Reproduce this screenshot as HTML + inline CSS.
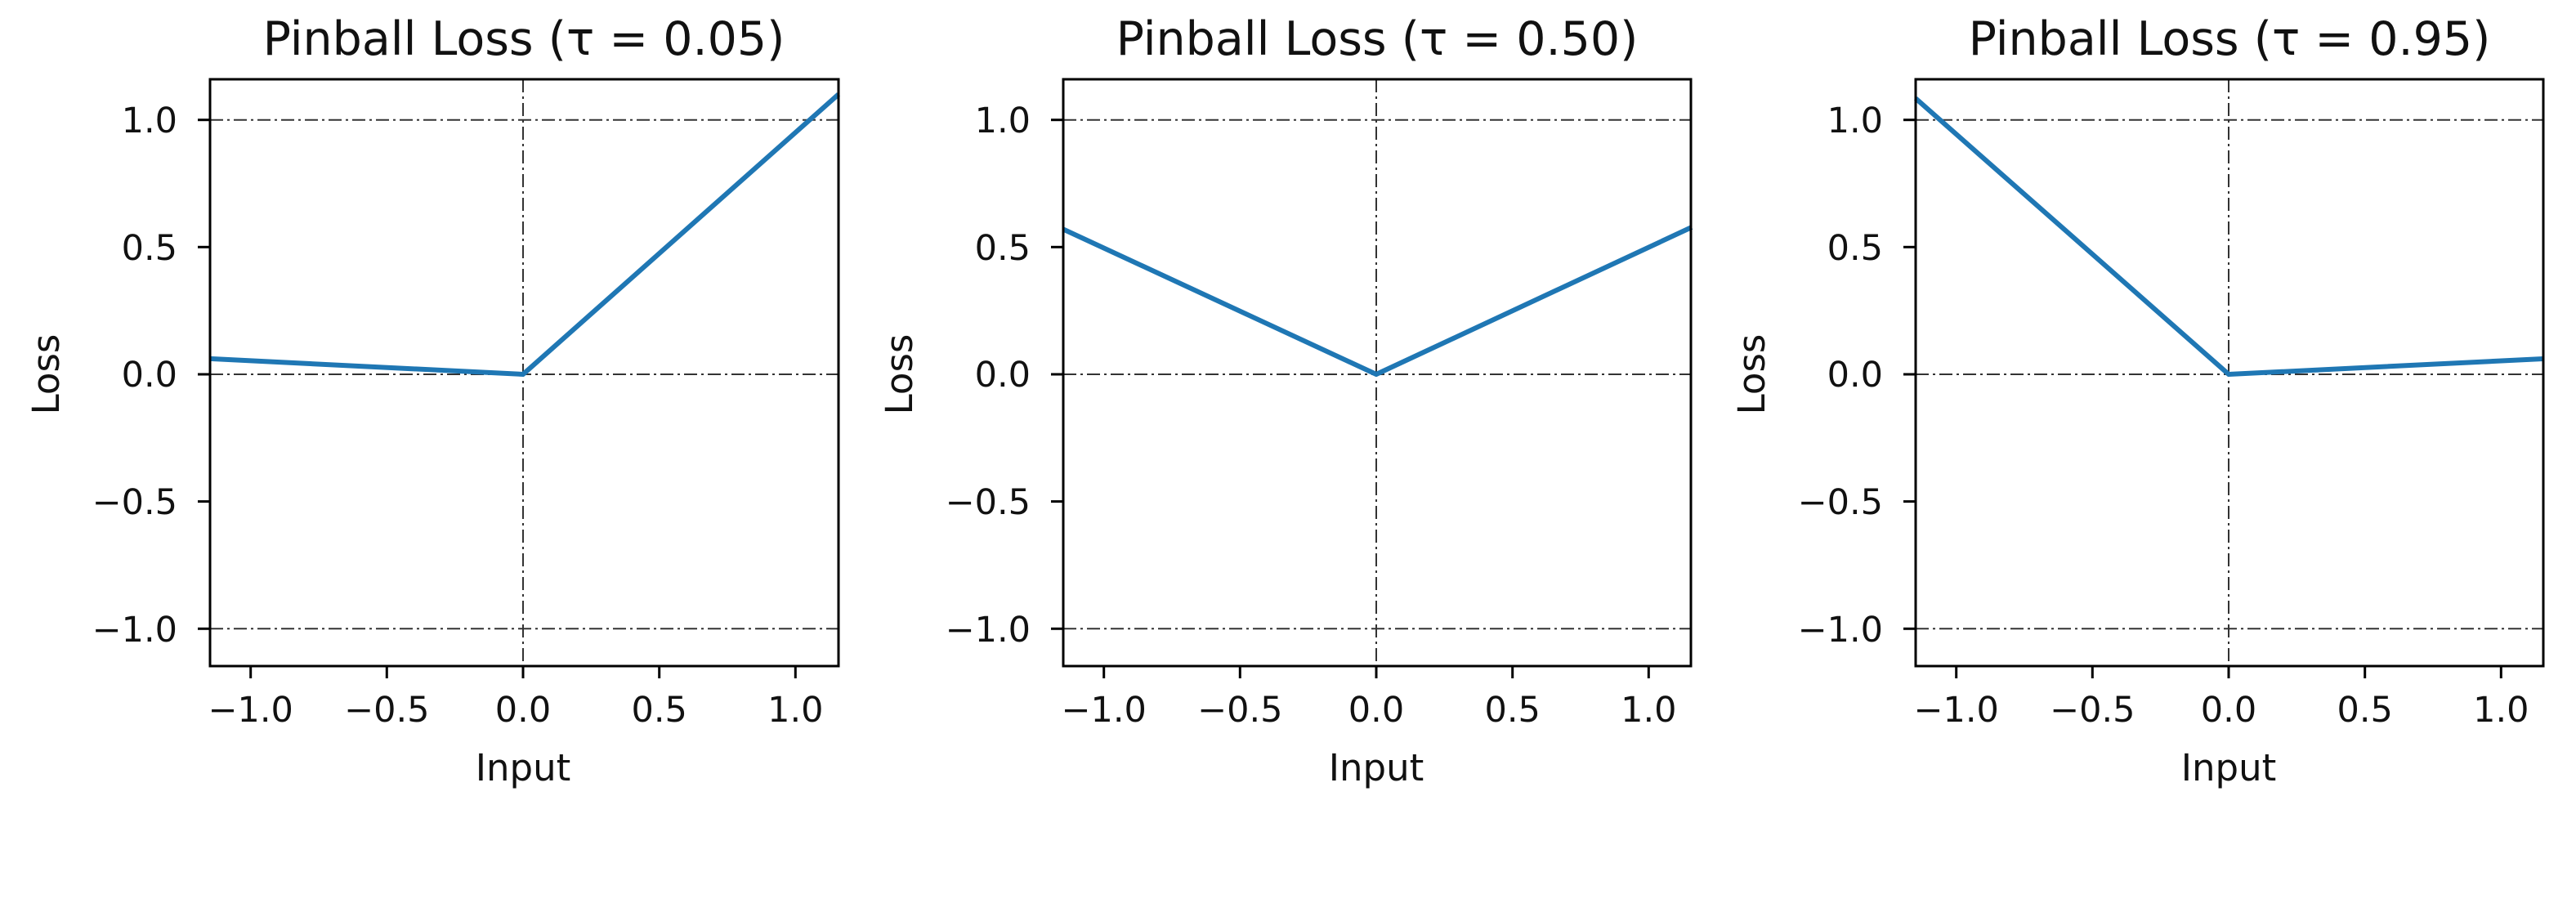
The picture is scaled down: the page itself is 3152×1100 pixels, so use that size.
<!DOCTYPE html>
<html><head><meta charset="utf-8"><style>html,body{margin:0;padding:0;background:#fff}svg{display:block}</style></head>
<body>
<svg width="3152" height="1100" viewBox="0 0 3152 1100" xmlns="http://www.w3.org/2000/svg" font-family="DejaVu Sans, Liberation Sans, sans-serif">
<rect width="3152" height="1100" fill="#fff"/>
<defs>
<g id="frame">
  <g stroke="#333" stroke-width="2" stroke-dasharray="16,5,3,5" fill="none">
    <line x1="0" y1="49.7" x2="769" y2="49.7"/>
    <line x1="0" y1="361" x2="769" y2="361"/>
    <line x1="0" y1="672.3" x2="769" y2="672.3"/>
    <line x1="383" y1="0" x2="383" y2="718"/>
  </g>
  <g stroke="#000" stroke-width="3">
    <line x1="-15" y1="49.7" x2="0" y2="49.7"/>
    <line x1="-15" y1="205.3" x2="0" y2="205.3"/>
    <line x1="-15" y1="361" x2="0" y2="361"/>
    <line x1="-15" y1="516.6" x2="0" y2="516.6"/>
    <line x1="-15" y1="672.3" x2="0" y2="672.3"/>
    <line x1="49.7" y1="718" x2="49.7" y2="733"/>
    <line x1="216.3" y1="718" x2="216.3" y2="733"/>
    <line x1="383" y1="718" x2="383" y2="733"/>
    <line x1="549.7" y1="718" x2="549.7" y2="733"/>
    <line x1="716.3" y1="718" x2="716.3" y2="733"/>
  </g>
  <g font-size="43" fill="#111" text-anchor="end">
    <text x="-40" y="65">1.0</text>
    <text x="-40" y="221">0.5</text>
    <text x="-40" y="376">0.0</text>
    <text x="-40" y="532">−0.5</text>
    <text x="-40" y="688">−1.0</text>
  </g>
  <g font-size="43" fill="#111" text-anchor="middle">
    <text x="49.7" y="786">−1.0</text>
    <text x="216.3" y="786">−0.5</text>
    <text x="383" y="786">0.0</text>
    <text x="549.7" y="786">0.5</text>
    <text x="716.3" y="786">1.0</text>
  </g>
  <text x="383" y="858" font-size="45" fill="#111" text-anchor="middle">Input</text>
  <text transform="translate(-185,361) rotate(-90)" font-size="45" fill="#111" text-anchor="middle">Loss</text>
</g>
</defs>

<g transform="translate(257,97)">
  <use href="#frame"/>
  <polyline points="0,341.9 383,361 769,18.4" fill="none" stroke="#1f77b4" stroke-width="6" stroke-linejoin="round"/>
  <rect x="0" y="0" width="769" height="718" fill="none" stroke="#000" stroke-width="3"/>
  <text x="384" y="-30" font-size="57" fill="#111" text-anchor="middle">Pinball Loss (τ = 0.05)</text>
</g>
<g transform="translate(1301,97)">
  <use href="#frame"/>
  <polyline points="0,183.5 383,361 769,181" fill="none" stroke="#1f77b4" stroke-width="6" stroke-linejoin="round"/>
  <rect x="0" y="0" width="768" height="718" fill="none" stroke="#000" stroke-width="3"/>
  <text x="384" y="-30" font-size="57" fill="#111" text-anchor="middle">Pinball Loss (τ = 0.50)</text>
</g>
<g transform="translate(2344,97)">
  <use href="#frame"/>
  <polyline points="0,23.4 383,361 768,342" fill="none" stroke="#1f77b4" stroke-width="6" stroke-linejoin="round"/>
  <rect x="0" y="0" width="768" height="718" fill="none" stroke="#000" stroke-width="3"/>
  <text x="384" y="-30" font-size="57" fill="#111" text-anchor="middle">Pinball Loss (τ = 0.95)</text>
</g>
</svg>
</body></html>
